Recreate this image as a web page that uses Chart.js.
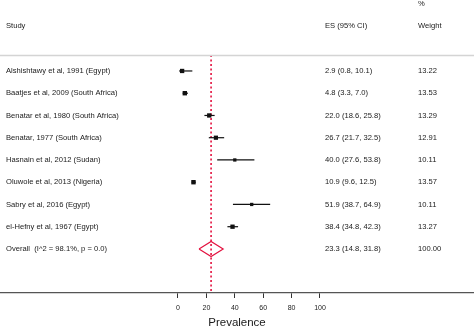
<!DOCTYPE html>
<html>
<head>
<meta charset="utf-8">
<script src="https://cdn.jsdelivr.net/npm/chart.js@4/dist/chart.umd.min.js"></script>
<style>
  html, body { margin: 0; padding: 0; background: #fff; }
  #wrap { width: 474px; height: 327px; position: relative; }
</style>
</head>
<body>
<div id="wrap"><canvas id="forest"></canvas></div>
<script>
// studies, top to bottom
const studies = [
  "Alshishtawy et al, 1991 (Egypt)",
  "Baatjes et al, 2009 (South Africa)",
  "Benatar et al, 1980 (South Africa)",
  "Benatar, 1977 (South Africa)",
  "Hasnain et al, 2012 (Sudan)",
  "Oluwole et al, 2013 (Nigeria)",
  "Sabry et al, 2016 (Egypt)",
  "el-Hefny et al, 1967 (Egypt)"
];
const es = [2.9, 4.8, 22.0, 26.7, 40.0, 10.9, 51.9, 38.4];
const ciLow = [0.8, 3.3, 18.6, 21.7, 27.6, 9.6, 38.7, 34.8];
const ciHigh = [10.1, 7.0, 25.8, 32.5, 53.8, 12.5, 64.9, 42.3];
const weights = [13.22, 13.53, 13.29, 12.91, 10.11, 13.57, 10.11, 13.27];

const overallLabel = "Overall  (I^2 = 98.1%, p = 0.0)";
const overallEs = 23.3;
const overallLow = 14.8;
const overallHigh = 31.8;
const overallWeight = 100.0;

const xTicks = [0, 20, 40, 60, 80, 100];

const FONT = "'Liberation Sans', Arial, sans-serif";
const RED = "#e3113f";
const overallRow = studies.length;

function fmtCI(v, lo, hi) {
  return `${v.toFixed(1)} (${lo.toFixed(1)}, ${hi.toFixed(1)})`;
}

// whisker lines, one per study
const ciSets = studies.map((s, i) => ({
  type: "line",
  data: [{ x: ciLow[i], y: i }, { x: ciHigh[i], y: i }],
  borderColor: "#111",
  borderWidth: 1.2,
  pointRadius: 0,
  fill: false,
  order: 2
}));

// point estimates, box size by weight
const pointSet = {
  type: "scatter",
  data: es.map((v, i) => ({ x: v, y: i })),
  pointStyle: "rect",
  pointRadius: weights.map(w => w * 0.23),
  backgroundColor: "#111",
  borderColor: "#111",
  borderWidth: 0,
  order: 1
};

// pooled estimate diamond
const dh = 0.34;
const diamondSet = {
  type: "line",
  data: [
    { x: overallLow, y: overallRow },
    { x: overallEs, y: overallRow - dh },
    { x: overallHigh, y: overallRow },
    { x: overallEs, y: overallRow + dh },
    { x: overallLow, y: overallRow }
  ],
  borderColor: RED,
  borderWidth: 1.2,
  pointRadius: 0,
  tension: 0,
  fill: false,
  order: 1
};

// dashed line at the pooled estimate
const refSet = {
  type: "line",
  data: [{ x: overallEs, y: -0.72 }, { x: overallEs, y: 10 }],
  borderColor: RED,
  borderWidth: 1.6,
  borderDash: [2, 2.5],
  pointRadius: 0,
  fill: false,
  order: 3
};

// table columns and header rule
const tablePlugin = {
  id: "forestTable",
  afterDatasetsDraw(chart) {
    const ctx = chart.ctx;
    const y = chart.scales.y;
    ctx.save();
    ctx.fillStyle = "#1a1a1a";
    ctx.textBaseline = "middle";
    ctx.font = `7.6px ${FONT}`;
    ctx.textAlign = "left";

    ctx.fillText("Study", 6, 26);
    ctx.fillText("ES (95% CI)", 325, 26);
    ctx.fillText("Weight", 418, 26);
    ctx.fillText("%", 418, 4);

    studies.forEach((s, i) => {
      const py = y.getPixelForValue(i);
      ctx.fillText(s, 6, py);
      ctx.fillText(fmtCI(es[i], ciLow[i], ciHigh[i]), 325, py);
      ctx.fillText(weights[i].toFixed(2), 418, py);
    });
    const oy = y.getPixelForValue(overallRow);
    ctx.fillText(overallLabel, 6, oy);
    ctx.fillText(fmtCI(overallEs, overallLow, overallHigh), 325, oy);
    ctx.fillText(overallWeight.toFixed(2), 418, oy);

    ctx.strokeStyle = "#d4d4d4";
    ctx.lineWidth = 1.5;
    ctx.beginPath();
    const hy = Math.round(y.getPixelForValue(-0.72)) + 0.5;
    ctx.moveTo(0, hy);
    ctx.lineTo(chart.width, hy);
    ctx.stroke();
    ctx.restore();
  }
};

new Chart(document.getElementById("forest"), {
  data: { datasets: [...ciSets, pointSet, diamondSet, refSet] },
  options: {
    responsive: true,
    maintainAspectRatio: false,
    animation: false,
    layout: { padding: 0, autoPadding: false },
    plugins: { legend: { display: false }, tooltip: { enabled: false } },
    scales: {
      x: {
        type: "linear",
        min: -125.35,
        max: 208.45,
        afterBuildTicks: (s) => { s.ticks = xTicks.map(v => ({ value: v })); },
        afterFit: (s) => { s.height = 34; },
        border: { display: true, color: "#555", width: 1.3 },
        grid: { drawOnChartArea: false, tickLength: 5, color: "#333" },
        ticks: {
          color: "#1a1a1a",
          font: { family: FONT, size: 7 },
          padding: 6,
          maxRotation: 0,
          autoSkip: false
        },
        title: {
          display: true,
          text: "Prevalence",
          color: "#1a1a1a",
          font: { family: FONT, size: 11.5 },
          padding: { top: 0, bottom: -3 }
        }
      },
      y: {
        type: "linear",
        display: false,
        reverse: true,
        min: -3.19,
        max: 9.98
      }
    }
  },
  plugins: [tablePlugin]
});
</script>
</body>
</html>
